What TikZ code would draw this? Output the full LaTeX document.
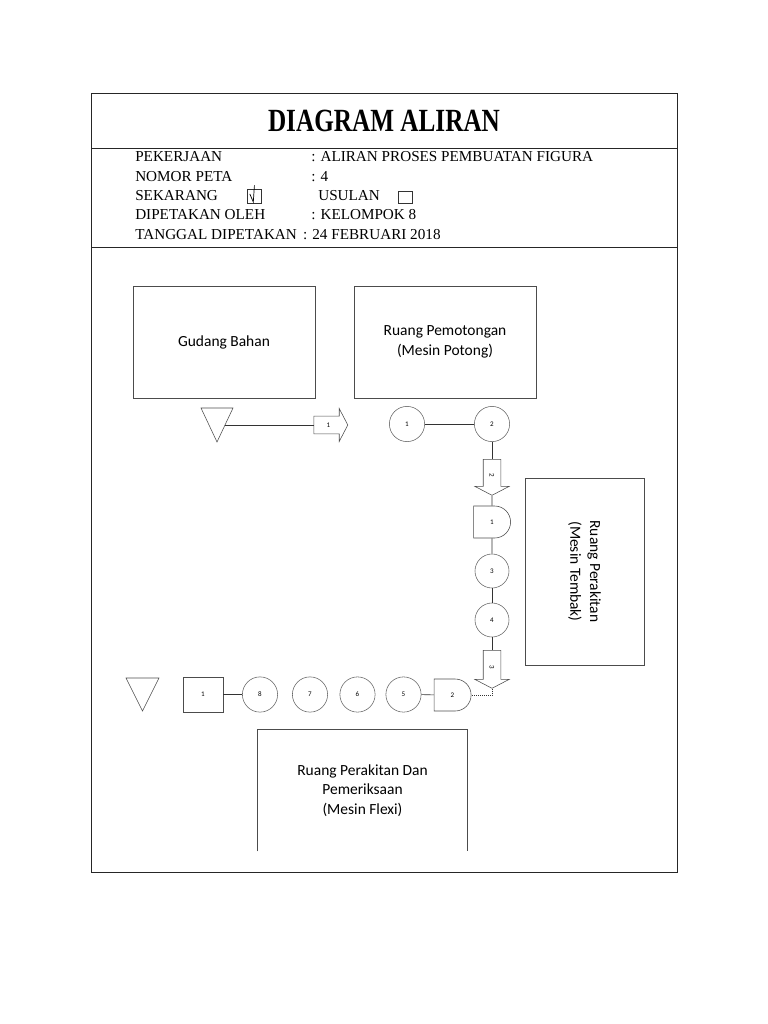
\documentclass[tikz,border=0pt]{standalone}
\usepackage{fontspec}
\setmainfont{Liberation Serif}
\newfontfamily\sansdiag{Carlito}
\usetikzlibrary{shapes.misc, shapes.arrows}
\tikzset{>=latex}
\newcommand{\kecil}{\sansdiag\fontsize{5}{6}\selectfont}
\newcommand{\isiruang}{\sansdiag\fontsize{11}{14}\selectfont}
\tikzset{
  ruang/.style={draw=black!70, minimum width=4.55cm, minimum height=2.8cm, align=center, font=\isiruang},
  operasi/.style={circle, draw=black!60, minimum size=0.88cm, inner sep=0pt, font=\kecil},
  tunda/.style={rounded rectangle, rounded rectangle west arc=none, draw=black!70, minimum width=0.925cm, minimum height=0.8cm, inner sep=0pt, font=\kecil},
  angkut/.style={single arrow, draw=black!70, single arrow head extend=0.19cm, single arrow tip angle=125, single arrow head indent=0pt, minimum height=0.85cm, inner xsep=1pt, inner ysep=4.3pt, text height=3.5pt, text depth=0pt, font=\kecil},
  periksa/.style={draw=black!70, minimum width=1.0cm, minimum height=0.875cm, inner sep=0pt, font=\kecil},
  kepala/.style={anchor=base west, inner sep=0pt, font=\fontsize{10.8}{13}\selectfont},
  kotakcek/.style={draw=black!80, minimum size=0.35cm, inner sep=0pt},
}

\begin{document}
\begin{tikzpicture}[x=0.025cm, y=-0.025cm]
    \useasboundingbox (0,0) rectangle (768,1024);

    % Frame
    \draw[black!85] (91,93) rectangle (677,872);
    \draw[black!85] (91,148) -- (677,148);
    \draw[black!85] (91,247) -- (677,247);

    \node[font=\fontsize{23}{26}\selectfont] (judul) at (384,121) {\scalebox{0.78}[1]{\bfseries DIAGRAM ALIRAN}};

    % Header
    \node[kepala] (pekerjaan) at (135,162) {PEKERJAAN};
    \node[kepala] (isipekerjaan) at (311,162) {: ALIRAN PROSES PEMBUATAN FIGURA};
    \node[kepala] (nomor) at (135,182) {NOMOR PETA};
    \node[kepala] (isinomor) at (311,182) {: 4};
    \node[kepala] (sekarang) at (135,201) {SEKARANG};
    \node[kotakcek] (ceksekarang) at (254,196) {};
    \draw[black, line width=0.5pt] ([xshift=-3pt, yshift=1.5pt]ceksekarang.center) -- ([xshift=-0.5pt, yshift=-4.3pt]ceksekarang.center) -- ([xshift=0.3pt, yshift=7.5pt]ceksekarang.center);
    \node[kepala] (usulan) at (318,201) {USULAN};
    \node[kotakcek, minimum height=0.3cm] (cekusulan) at (405,197) {};
    \node[kepala] (oleh) at (135,220) {DIPETAKAN OLEH};
    \node[kepala] (isioleh) at (311,220) {: KELOMPOK 8};
    \node[kepala] (tanggal) at (135,240) {TANGGAL DIPETAKAN};
    \node[kepala] (isitanggal) at (299,240) {\ : 24 FEBRUARI 2018};

    % Ruang
    \node[ruang] (gudang) at (224,342) {Gudang Bahan};
    \node[ruang] (potong) at (445,342) {Ruang Pemotongan\\(Mesin Potong)};
    \node[ruang, rotate=-90, minimum width=4.675cm, minimum height=2.975cm] (tembak) at (584.5,571.5) {Ruang Perakitan\\(Mesin Tembak)};
    \node[align=center, font=\isiruang, minimum width=5.225cm, minimum height=3.025cm] (flexi) at (362.5,790.5) {Ruang Perakitan Dan\\Pemeriksaan\\(Mesin Flexi)};
    \draw[black!70] (flexi.south west) -- (flexi.north west) -- (flexi.north east) -- (flexi.south east);

    % Aliran atas
    \draw[black!70] (201,408) -- (233,408) -- (217,442) -- cycle;
    \coordinate (simpan1) at (225,425);
    \node[angkut] (t1) at (328.5,425) {1};
    \draw[black!80] (simpan1) -- (t1.tail);

    \node[operasi] (o1) at (407,424) {1};
    \node[operasi] (o2) at (492,424) {2};
    \draw[black!80] (o1) -- (o2);

    % Aliran tegak
    \node[angkut, rotate=-90, single arrow head extend=0.21cm, minimum height=0.9cm] (t2) at (492,475) {2};
    \node[tunda] (d1) at (492,522) {1};
    \foreach \n/\y in {3/571, 4/620}{
        \node[operasi, minimum size=0.85cm] (o\n) at (492,\y) {\n};
    }
    \node[angkut, rotate=-90, single arrow head extend=0.21cm, minimum height=0.95cm] (t3) at (492,667) {3};
    \draw[black!80] (o2) -- (t2.tail);
    \draw[black!80] (t2.tip) -- (d1);
    \draw[black!80] (d1) -- (o3);
    \draw[black!80] (o3) -- (o4);
    \draw[black!80] (o4) -- (t3.tail);

    % Aliran bawah
    \draw[black!70] (126,678) -- (159,678) -- (142.5,711) -- cycle;
    \node[periksa] (k1) at (203,694.5) {1};
    \foreach \n/\x in {8/260, 7/310, 6/357.5, 5/403.5}{
        \node[operasi] (o\n) at (\x,694.5) {\n};
    }
    \node[tunda] (d2) at (452.5,695) {2};
    \draw[black!80] (k1) -- (o8);
    \draw[black!80] (o5) -- (d2);
    \draw[black!80, densely dotted] (t3.tip) |- (d2.east);

\end{tikzpicture}
\end{document}
